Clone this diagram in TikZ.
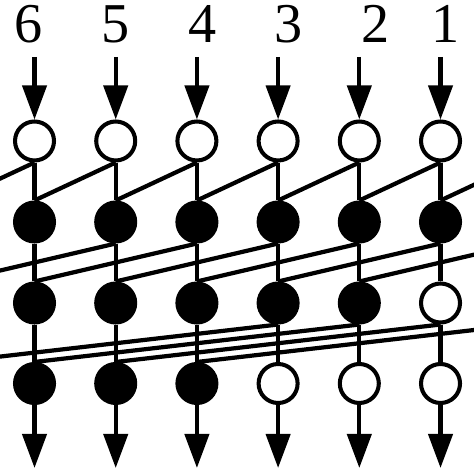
\documentclass[tikz,border=0pt]{standalone}
\usepackage{fontspec}
\setmainfont{Liberation Serif}
\usetikzlibrary{arrows.meta,positioning}

\begin{document}
\begin{tikzpicture}[
  x=1.624cm, y=1cm,
  every node/.style={draw, circle, line width=2.3pt, minimum size=7.8mm, inner sep=0pt},
  wht/.style={fill=white},
  blk/.style={fill=black},
  ghost/.style={draw=none},
  wire/.style={line width=2.4pt},
  io/.style={-{Triangle[length=6.8mm,width=4.8mm]}, line width=2.4pt},
  lab/.style={draw=none, rectangle, minimum size=0pt, font=\fontsize{32}{32}\selectfont}
]
\useasboundingbox (0,0) rectangle (9.48cm,9.48cm);

% stage nodes, named by column label
\foreach \l in {1,...,6} {
  \node[wht] (n1-\l) at ({6.425-\l},6.66) {};
  \node[blk] (n2-\l) at ({6.425-\l},5.04) {};
}
\foreach \l/\s in {1/wht,2/blk,3/blk,4/blk,5/blk,6/blk}
  \node[\s] (n3-\l) at ({6.425-\l},3.42) {};
\foreach \l/\s in {1/wht,2/wht,3/wht,4/blk,5/blk,6/blk}
  \node[\s] (n4-\l) at ({6.425-\l},1.81) {};

% ghosts just beyond the edges
\foreach \r/\y in {1/6.66,2/5.04,3/3.42,4/1.81} {
  \node[ghost] (n\r-0) at (6.425,\y) {};
  \node[ghost] (n\r-7) at (-0.575,\y) {};
}

% labels
\node[lab] (t6) at (0.58cm,9) {6};
\node[lab] (t5) at (2.32cm,9) {5};
\node[lab] (t4) at (4.06cm,9) {4};
\node[lab] (t3) at (5.78cm,9) {3};
\node[lab] (t2) at (7.52cm,9) {2};
\node[lab] (t1) at (8.92cm,9) {1};

% in and out arrows, straight wires
\foreach \l in {1,...,6} {
  \coordinate (in\l) at ({6.425-\l},8.34);
  \coordinate (out\l) at ({6.425-\l},0.12);
  \draw[io] (in\l) -- (n1-\l.north);
  \draw[io] (n4-\l.south) -- (out\l);
  \draw[wire] (n1-\l.south) -- (n2-\l.north);
  \draw[wire] (n2-\l.south) -- (n3-\l.north);
  \draw[wire] (n3-\l.south) -- (n4-\l.north);
}

% shifted wires: 1, 2, 4
\begin{scope}
\clip (0,0) rectangle (9.48cm,9.48cm);
\foreach \r/\s in {1/1,2/2,3/4} {
  \pgfmathtruncatemacro\nr{\r+1}
  \pgfmathtruncatemacro\hi{7-\s}
  \foreach \l in {0,...,\hi} {
    \pgfmathtruncatemacro\t{\l+\s}
    \draw[wire] (n\r-\l.south) -- (n\nr-\t.north);
  }
}
\end{scope}
\end{tikzpicture}
\end{document}
